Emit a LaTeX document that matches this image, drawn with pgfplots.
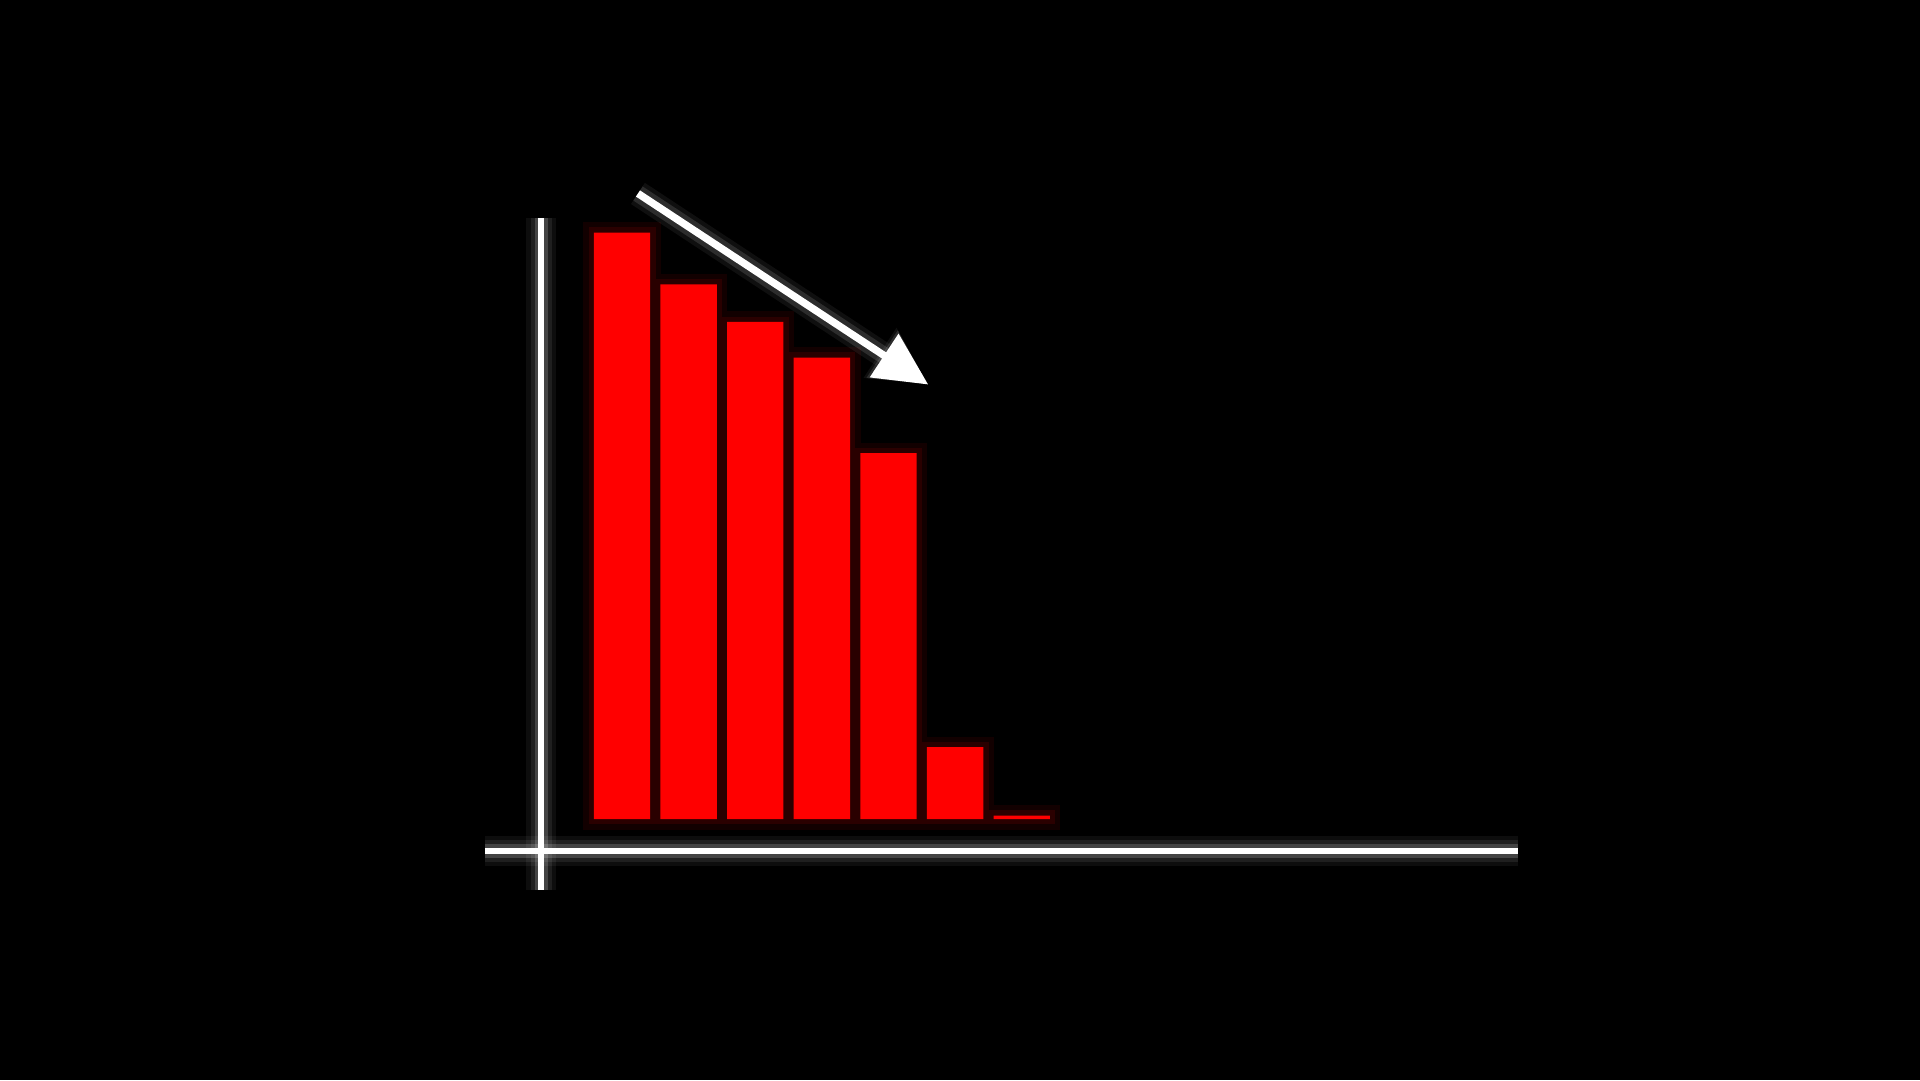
\documentclass[border=0pt]{standalone}
\usepackage{pgfplots}
\pgfplotsset{compat=1.18}
\usetikzlibrary{arrows.meta}

\newcommand{\axeslines}[2]{%
  \draw[white, opacity=#2, line width=#1] (axis cs:-0.213,102.5) -- (axis cs:-0.213,-12.11);
  \draw[white, opacity=#2, line width=#1] (axis cs:-1.059,-5.43) -- (axis cs:14.456,-5.43);
}
\newcommand{\trend}[4]{%
  \draw[white, opacity=#2, line width=#1, -{Triangle[length=#3, width=#4]}] (axis cs:1.239,106.68) -- (axis cs:5.596,74.11);
}

\begin{document}
\begin{tikzpicture}
% black canvas, 16:9
\fill[black] (0,0) rectangle (16cm,9cm);
\begin{axis}[
  at={(0,0)}, anchor=south west,
  width=16cm, height=9cm, scale only axis,
  xmin=-8.338, xmax=20.485,
  ymin=-44.47, ymax=139.67,
  hide axis, clip=false,
  ybar, bar width=0.846, bar shift=0pt,
]
% glow of the axes
\axeslines{7pt}{0.05}
\axeslines{5pt}{0.08}
\axeslines{3.2pt}{0.16}
% bar glow
\addplot[draw=red, fill=none, opacity=0.07, line width=5pt] coordinates {(1,100) (2,91.2) (3,84.8) (4,78.7) (5,62.4) (6,12.3) (7,0.6)};
\addplot[draw=red, fill=none, opacity=0.1, line width=2.5pt] coordinates {(1,100) (2,91.2) (3,84.8) (4,78.7) (5,62.4) (6,12.3) (7,0.6)};
% bars
\addplot[draw=none, fill=red] coordinates {(1,100) (2,91.2) (3,84.8) (4,78.7) (5,62.4) (6,12.3) (7,0.6)};
% axes
\axeslines{1.45pt}{1}
% trend arrow
\trend{6pt}{0.06}{0.48cm}{0.46cm}
\trend{4pt}{0.12}{0.46cm}{0.44cm}
\trend{1.75pt}{1}{0.44cm}{0.42cm}
\end{axis}
\end{tikzpicture}
\end{document}
